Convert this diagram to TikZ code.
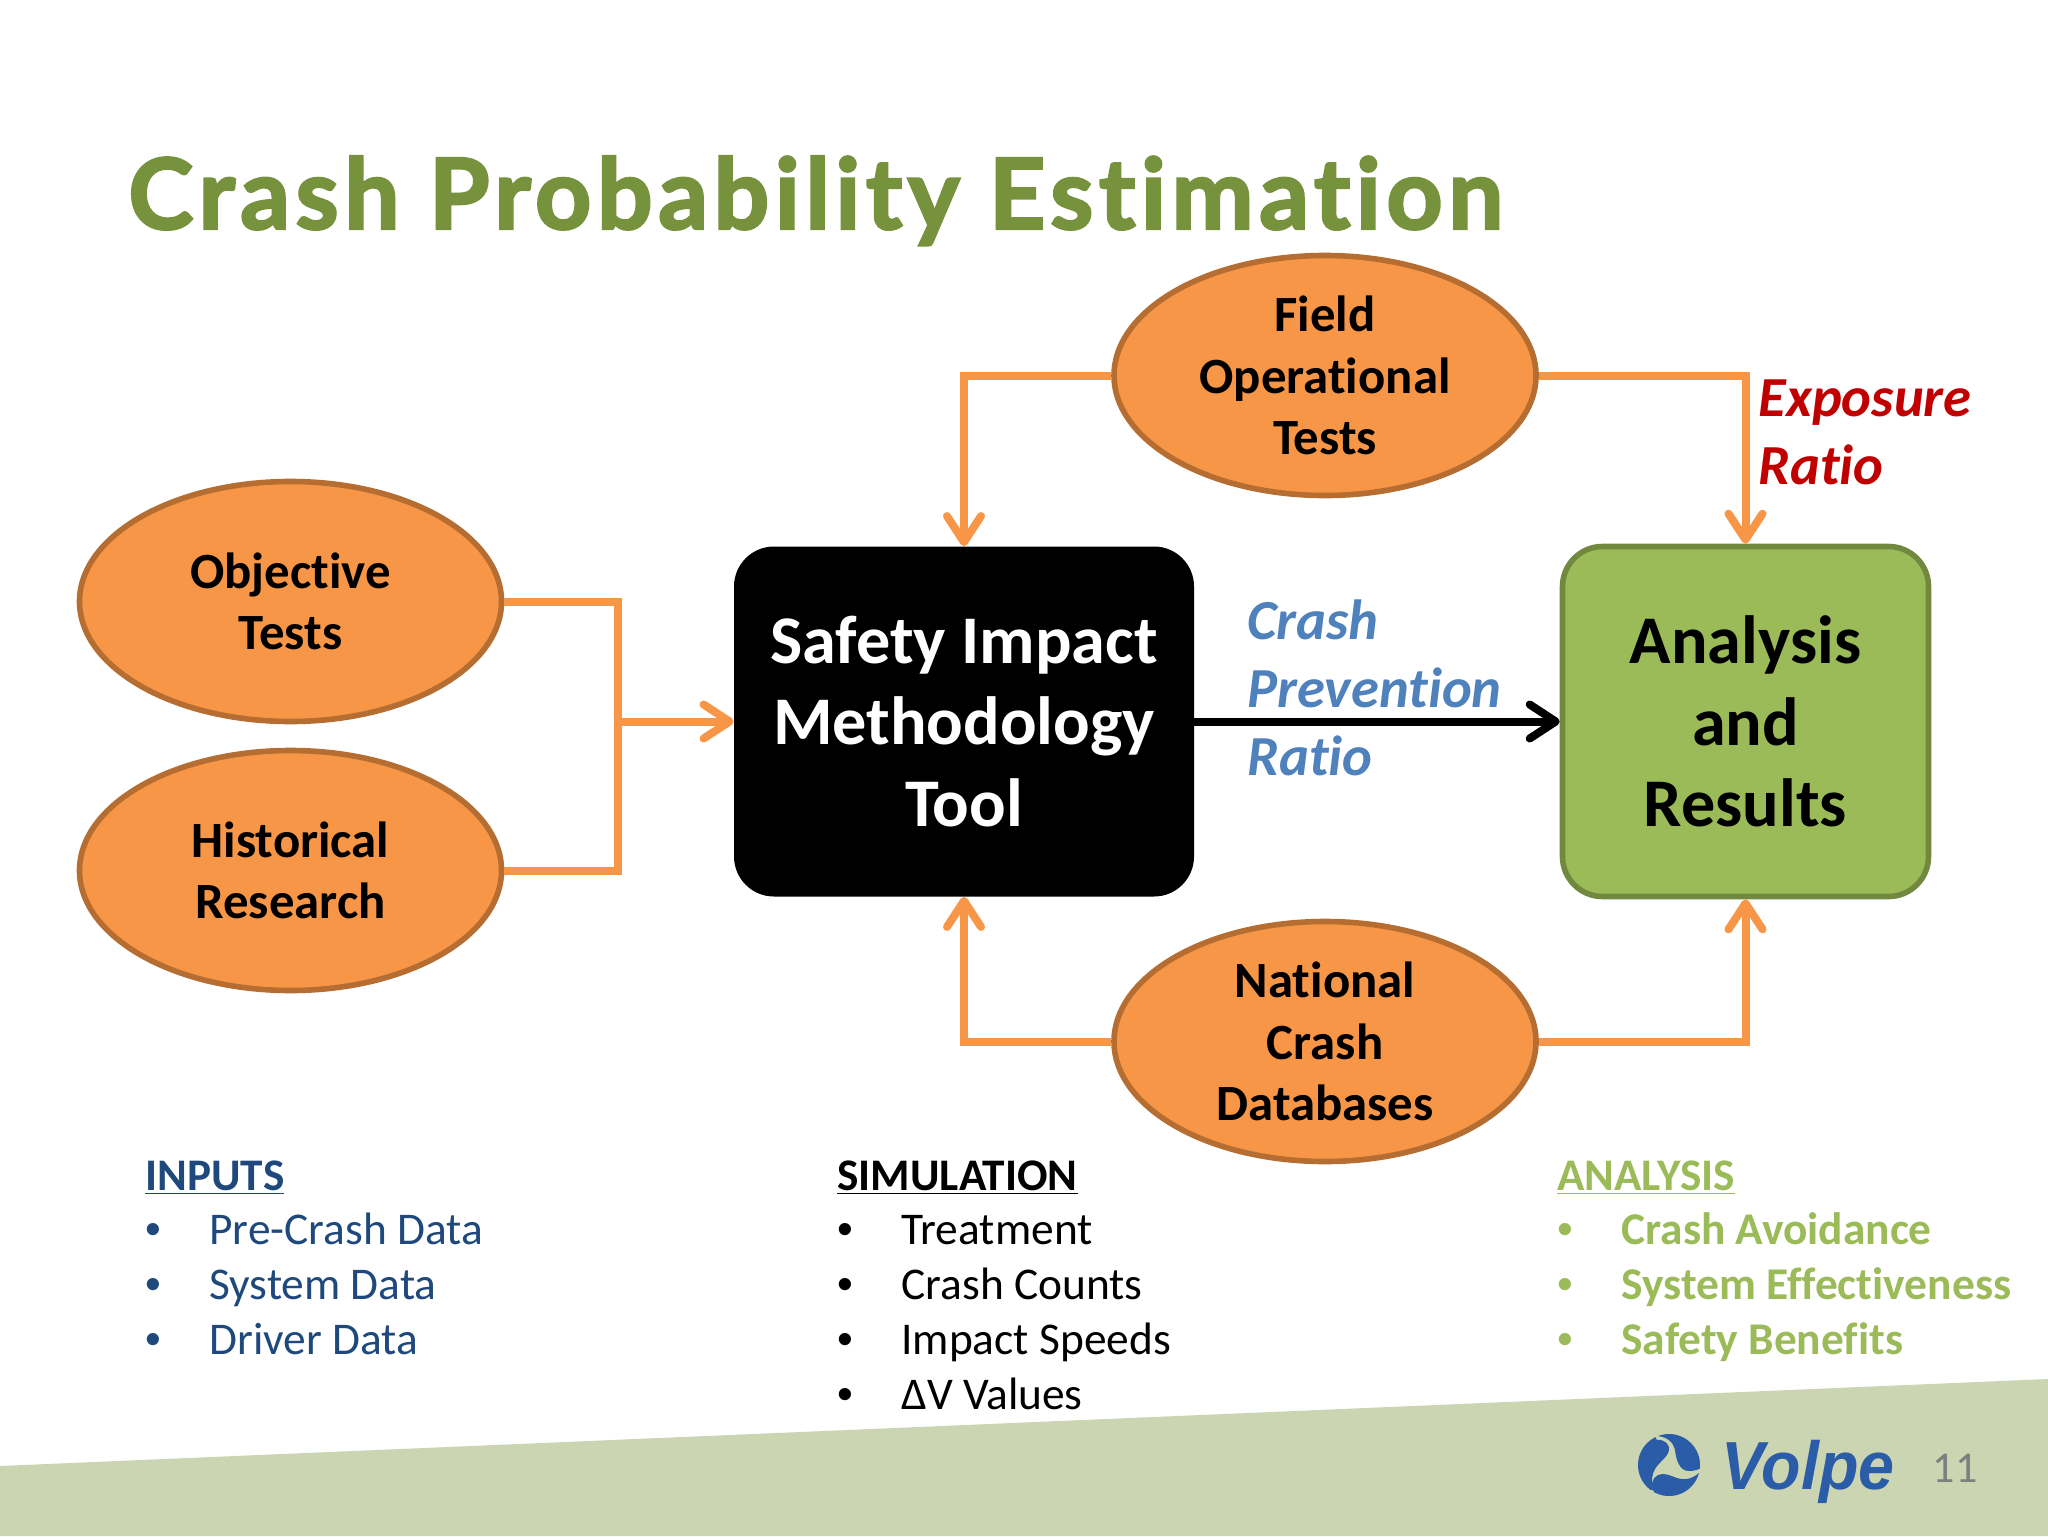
\documentclass[tikz,border=0pt]{standalone}
\usepackage{fontspec}
\setmainfont[Ligatures={NoCommon}]{Carlito}
\newfontfamily\titlefont[LetterSpace=5.7,Ligatures={NoCommon},BoldFeatures={FakeBold=2.5}]{Lato}
\newfontfamily\logofont{Liberation Sans}
\usetikzlibrary{shapes.geometric,arrows.meta}
\definecolor{orangefill}{HTML}{F79646}
\definecolor{orangeline}{HTML}{B66D31}
\definecolor{greenfill}{HTML}{9BBB59}
\definecolor{greenline}{HTML}{71893F}
\definecolor{titlegreen}{HTML}{76923C}
\definecolor{navy}{HTML}{1F497D}
\definecolor{midblue}{HTML}{4F81BD}
\definecolor{darkred}{HTML}{C00000}
\definecolor{band}{HTML}{CBD5B1}
\definecolor{logoblue}{HTML}{2A5CA8}
\definecolor{pagegray}{HTML}{7F7F7F}
\tikzset{
  oval/.style={ellipse,draw=orangeline,fill=orangefill,line width=2.8pt,minimum width=211pt,minimum height=120pt,inner sep=0pt,align=center,text=black,font=\fontsize{25.4}{30.7}\selectfont\bfseries},
  bigbox/.style={rounded corners=20pt,minimum height=175pt,inner sep=0pt,align=center,font=\fontsize{34.1}{40.8}\selectfont\bfseries},
  link/.style={draw=orangefill,line width=4pt},
  linkarrow/.style={link,-{Straight Barb[round,length=13pt,width=17pt,line width=4pt]}},
  listhead/.style={anchor=base west,inner sep=0pt,font=\fontsize{22.6}{27}\selectfont\bfseries},
  listitem/.style={anchor=base west,inner sep=0pt,font=\fontsize{22.7}{27}\selectfont},
  dotmark/.style={anchor=base west,inner sep=0pt,font=\fontsize{22.5}{27}\selectfont\logofont},
  ratio/.style={anchor=west,inner sep=0pt,align=left,font=\fontsize{28.3}{34}\selectfont\bfseries\itshape}
}
\begin{document}
\begin{tikzpicture}[x=0.5pt,y=-0.5pt]
\useasboundingbox (0,0) rectangle (2048,1536);
\fill[white] (0,0) rectangle (2048,1536);
\fill[band] (0,1466) -- (2048,1379) -- (2048,1536) -- (0,1536) -- cycle;

\node[anchor=base west,inner sep=0pt,text=titlegreen,font=\fontsize{49}{60}\selectfont\titlefont\bfseries] (title) at (128,229) {Crash Probability Estimation};

\node[oval] (field) at (1325,375.5) {Field\\Operational\\Tests};
\node[oval] (objective) at (290.5,601.5) {Objective\\Tests};
\node[oval] (historical) at (290.5,870.5) {Historical\\Research};
\node[oval] (national) at (1325,1041.5) {National\\Crash\\Databases};

\node[bigbox,fill=black,text=white,minimum width=230pt] (tool) at (964,721.5) {Safety Impact\\Methodology\\Tool};
\node[bigbox,fill=greenfill,draw=greenline,line width=2.8pt,text=black,minimum width=183pt,minimum height=175pt] (results) at (1745.5,721.5) {Analysis\\and\\Results};

\coordinate (merge) at (618,721.5);
\draw[link] (objective.east) -| (merge);
\draw[link] (historical.east) -| (merge);
\draw[linkarrow] (merge) -- (tool.west);
\draw[linkarrow] (field.west) -| (tool.north);
\draw[linkarrow] (national.west) -| (tool.south);
\draw[linkarrow] (field.east) -| (results.north);
\draw[linkarrow] (national.east) -| (results.south);
\draw[line width=4pt,-{Straight Barb[round,length=13pt,width=17pt,line width=4pt]}] (tool.east) -- (results.west);

\node[ratio,text=darkred] (exposure) at (1758,432) {Exposure\\Ratio};
\node[ratio,text=midblue] (prevention) at (1247,688) {Crash\\Prevention\\Ratio};

% inputs
\node[listhead,text=navy] (inh) at (145,1190) {\underline{INPUTS}};
\foreach \n/\y/\t in {a/1244/Pre-Crash Data,b/1299/System Data,c/1354/Driver Data}{
  \node[dotmark,text=navy] (inb\n) at (145,\y) {•};
  \node[listitem,text=navy] (int\n) at (209,\y) {\t};
}
% simulation
\node[listhead,text=black] (simh) at (837,1190) {\underline{SIMULATION}};
\foreach \n/\y/\t in {a/1244/Treatment,b/1299/Crash Counts,c/1354/Impact Speeds,d/1409/ΔV Values}{
  \node[dotmark,text=black] (simb\n) at (837,\y) {•};
  \node[listitem,text=black] (simt\n) at (901,\y) {\t};
}
% analysis
\node[listhead,text=greenfill] (anh) at (1557,1190) {\underline{ANALYSIS}};
\foreach \n/\y/\t in {a/1244/Crash Avoidance,b/1299/System Effectiveness,c/1354/Safety Benefits}{
  \node[dotmark,text=greenfill] (anb\n) at (1557,\y) {•};
  \node[listitem,text=greenfill,font=\fontsize{22.7}{27}\selectfont\bfseries] (ant\n) at (1621,\y) {\t};
}

% logo
\begin{scope}[shift={(1669,1465)}]
  \clip (0,0) circle (31);
  \fill[logoblue] (-12,-25) .. controls (-4,-26) and (1,-20) .. (0,-15) .. controls (-1,-8) and (-10,-3) .. (-14,4) .. controls (-17,9) and (-18,16) .. (-16,25) -- (-40,25) -- (-40,-40) -- (-20,-40) -- cycle;
  \fill[logoblue] (-11,-29) .. controls (-3,-28) and (4,-24) .. (6,-15) .. controls (7,-6) and (10,6) .. (20,6) .. controls (24,6) and (29,5) .. (32,3) -- (40,3) -- (40,-40) -- (-11,-40) -- cycle;
  \fill[logoblue] (32,6) .. controls (25,13) and (17,16) .. (8,13) .. controls (2,11) and (-5,7) .. (-11,10) .. controls (-17,13) and (-19,20) .. (-15,27) -- (-15,40) -- (40,40) -- cycle;
\end{scope}
\node[anchor=base,inner sep=0pt,text=logoblue,xscale=0.95,transform shape,font=\fontsize{34}{40}\selectfont\bfseries\itshape\logofont] (volpe) at (1808,1489) {Volpe};
\node[inner sep=0pt,text=pagegray,font=\fontsize{22}{26}\selectfont] (page) at (1955,1468) {11};
\end{tikzpicture}
\end{document}
